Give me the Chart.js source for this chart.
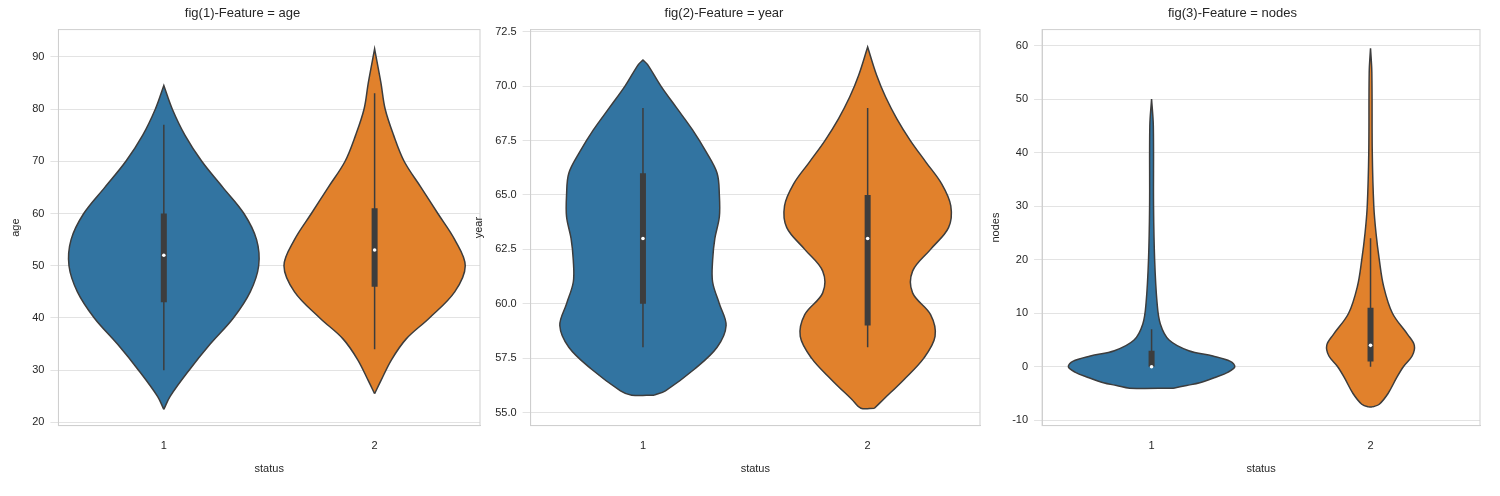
<!DOCTYPE html>
<html><head><meta charset="utf-8">
<script src="https://cdn.jsdelivr.net/npm/chart.js@4"></script>
<style>body{margin:0;width:1500px;height:496px;background:#fff;position:relative;overflow:hidden}
.c{position:absolute;top:0;height:490px}</style></head><body>
<div class="c" style="left:5px;width:480px"><canvas id="c1"></canvas></div>
<div class="c" style="left:468px;width:517px"><canvas id="c2"></canvas></div>
<div class="c" style="left:985px;width:500px"><canvas id="c3"></canvas></div>
<script>
const categories = ["1","2"];
// violin profiles: y levels and half-widths (in category units)
const ageBlueY  = [22.5,25,30,35,40,45,50,55,60,65,70,75,80,84.5];
const ageBlueW  = [0,0.03,0.12,0.22,0.33,0.41,0.45,0.44,0.38,0.28,0.18,0.1,0.04,0];
const ageOrY    = [25.5,28,32,36,40,45,50,55,60,65,70,75,80,85,91.5];
const ageOrW    = [0,0.03,0.08,0.15,0.26,0.38,0.43,0.38,0.3,0.22,0.14,0.09,0.05,0.03,0];
const yearBlueY = [55.8,56,57,58,59,60,61,62,63,64,65,66,67,68,69,70,71,71.2];
const yearBlueW = [0.05,0.1,0.23,0.33,0.37,0.34,0.31,0.31,0.32,0.34,0.34,0.33,0.28,0.22,0.15,0.08,0.02,0];
const yearOrY   = [55.2,55.6,56.5,57.5,58.5,59.5,60.5,61.5,62.5,63.5,64.5,65.5,66.5,67.5,68.5,69.5,70.5,71.8];
const yearOrW   = [0.03,0.07,0.16,0.25,0.3,0.28,0.2,0.2,0.28,0.36,0.37,0.33,0.26,0.19,0.13,0.08,0.04,0];
const nodesBlueY= [-4,-3.5,-3,-2,-1,0,1,2,3,5,8,12,20,30,45,50];
const nodesBlueW= [0.1,0.16,0.22,0.29,0.35,0.38,0.36,0.28,0.17,0.08,0.04,0.025,0.014,0.009,0.008,0];
const nodesOrY  = [-7.5,-7,-5,-2,0,2,4,6,10,15,20,25,30,40,55,59.5];
const nodesOrW  = [0.01,0.04,0.08,0.12,0.15,0.19,0.2,0.17,0.1,0.06,0.04,0.025,0.015,0.008,0.006,0];
// box stats: [whiskerLow, q1, median, q3, whiskerHigh]
const ageBox   = [[30,43,52,60,77],[34,46,53,61,83]];
const yearBox  = [[58,60,63,66,69],[58,59,63,65,69]];
const nodesBox = [[0,0,0,3,7],[0,1,4,11,24]];

const BLUE='#3274a1', ORANGE='#e1812c', DARK='#3d3d3d';
const frame={id:'frame',afterDraw(c){const a=c.chartArea,x=c.ctx;x.save();x.strokeStyle='#cfcfcf';x.lineWidth=1;x.strokeRect(a.left,a.top,a.right-a.left,a.bottom-a.top);x.restore();}};
function violin(cx,ys,ws,color){
  const pts=[];
  for(let i=0;i<ys.length;i++)pts.push({x:cx+ws[i],y:ys[i]});
  for(let i=ys.length-1;i>=0;i--)pts.push({x:cx-ws[i],y:ys[i]});
  pts.push(pts[0]);
  return {data:pts,showLine:true,fill:'shape',backgroundColor:color,borderColor:DARK,borderWidth:1.5,pointRadius:0,tension:0.35,order:3};
}
function box(cx,b){
  return [
    {data:[{x:cx,y:b[0]},{x:cx,y:b[4]}],showLine:true,borderColor:DARK,borderWidth:1.5,pointRadius:0,order:2},
    {data:[{x:cx,y:b[1]},{x:cx,y:b[3]}],showLine:true,borderColor:DARK,borderWidth:6,borderCapStyle:'butt',pointRadius:0,order:1},
    {data:[{x:cx,y:b[2]}],pointRadius:1.8,backgroundColor:'#fff',borderWidth:0,order:0}
  ];
}
function make(id,title,ylab,vb,vo,bx,ymin,ymax,step,dec){
  new Chart(document.getElementById(id),{type:'scatter',
    data:{datasets:[violin(0,vb[0],vb[1],BLUE),violin(1,vo[0],vo[1],ORANGE),...box(0,bx[0]),...box(1,bx[1])]},
    options:{responsive:true,maintainAspectRatio:false,animation:false,
      layout:{padding:{top:2,right:5,bottom:10}},
      plugins:{legend:{display:false},tooltip:{enabled:false},filler:{propagate:false},
        title:{display:true,text:title,color:'#262626',font:{size:13,weight:'normal',family:'Liberation Sans'},padding:{top:4,bottom:8}}},
      scales:{
        x:{type:'linear',min:-0.5,max:1.5,grid:{display:false},border:{color:'#cfcfcf'},
          afterBuildTicks(s){s.ticks=[{value:0},{value:1}];},
          ticks:{callback:v=>categories[v],color:'#262626',font:{size:11,family:'Liberation Sans'},padding:6},
          title:{display:true,text:'status',color:'#262626',font:{size:11,family:'Liberation Sans'}}},
        y:{min:ymin,max:ymax,grid:{color:'#e3e3e3'},border:{color:'#cfcfcf'},
          afterBuildTicks(s){const t=[];for(let v=Math.ceil(ymin/step)*step;v<=ymax+1e-9;v+=step)t.push({value:v});s.ticks=t;},
          ticks:{callback:v=>v.toFixed(dec),color:'#262626',font:{size:11,family:'Liberation Sans'},padding:6},
          title:{display:true,text:ylab,color:'#262626',font:{size:11,family:'Liberation Sans'}}}
      }},plugins:[frame]});
}
make('c1','fig(1)-Feature = age','age',[ageBlueY,ageBlueW],[ageOrY,ageOrW],ageBox,19.4,95.2,10,0);
make('c2','fig(2)-Feature = year','year',[yearBlueY,yearBlueW],[yearOrY,yearOrW],yearBox,54.4,72.6,2.5,1);
make('c3','fig(3)-Feature = nodes','nodes',[nodesBlueY,nodesBlueW],[nodesOrY,nodesOrW],nodesBox,-11,63,10,0);
</script></body></html>
